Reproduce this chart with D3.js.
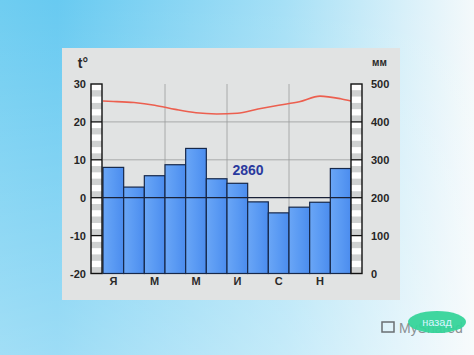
<!DOCTYPE html>
<html><head><meta charset="utf-8">
<script src="https://cdn.jsdelivr.net/npm/d3@7"></script>
<style>html,body{margin:0;padding:0;overflow:hidden;}svg{display:block;}</style>
</head><body>
<script>
const months = ["Я","Ф","М","А","М","И","И","А","С","О","Н","Д"];
const monthLabelsShown = ["Я","","М","","М","","И","","С","","Н",""];
const precip = [280,228,258,287,330,250,238,189,160,175,188,277];
const temp = [25.4,25.1,24.4,23.3,22.4,22.1,22.3,23.4,24.4,25.3,26.8,26.1];
const tempEdge = 25.5;
const tempTicks = [30,20,10,0,-10,-20];
const precipTicks = [500,400,300,200,100,0];
const totalLabel = "2860";

const W=474,H=355;
const svg=d3.select("body").append("svg").attr("width",W).attr("height",H);
const defs=svg.append("defs");
const bg=defs.append("linearGradient").attr("id","bg").attr("x1","0").attr("x2","1").attr("y1","0").attr("y2","0");
bg.append("stop").attr("offset","0").attr("stop-color","#6fcdf1");
bg.append("stop").attr("offset","0.12").attr("stop-color","#68caf1");
bg.append("stop").attr("offset","0.6").attr("stop-color","#a6e0f6");
bg.append("stop").attr("offset","1").attr("stop-color","#f4f9fb");
const bg2=defs.append("linearGradient").attr("id","bg2").attr("x1","0").attr("x2","0").attr("y1","0").attr("y2","1");
bg2.append("stop").attr("offset","0").attr("stop-color","#ffffff").attr("stop-opacity",0);
bg2.append("stop").attr("offset","1").attr("stop-color","#ffffff").attr("stop-opacity",0.35);
const barG=defs.append("linearGradient").attr("id","barg").attr("x1","0").attr("x2","1").attr("y1","0").attr("y2","0");
barG.append("stop").attr("offset","0").attr("stop-color","#6aa6f6");
barG.append("stop").attr("offset","0.5").attr("stop-color","#5a9af3");
barG.append("stop").attr("offset","1").attr("stop-color","#4b8cee");

svg.append("rect").attr("width",W).attr("height",H).attr("fill","url(#bg)");
svg.append("rect").attr("width",W).attr("height",H).attr("fill","url(#bg2)");

// panel
svg.append("rect").attr("x",62).attr("y",48).attr("width",338).attr("height",252).attr("fill","#e1e3e3");

const x0=103, x1=351, yTop=84, yBot=273.5;
const x=d3.scaleBand().domain(d3.range(12)).range([x0,x1]).padding(0);
const xl=d3.scaleLinear().domain([0,12]).range([x0,x1]);
const yT=d3.scaleLinear().domain([-20,30]).range([yBot,yTop]);
const yP=d3.scaleLinear().domain([0,500]).range([yBot,yTop]);

// grid
const g=svg.append("g");
[20,10].forEach(v=>g.append("line").attr("x1",x0).attr("x2",x1).attr("y1",yT(v)).attr("y2",yT(v)).attr("stroke","#9a9c9c").attr("stroke-width",0.8));
[3,6,9].forEach(v=>g.append("line").attr("x1",xl(v)).attr("x2",xl(v)).attr("y1",yTop).attr("y2",yBot).attr("stroke","#9a9c9c").attr("stroke-width",0.8));

// bars
svg.append("g").selectAll("rect").data(precip).join("rect")
  .attr("x",(d,i)=>x(i)).attr("width",x.bandwidth())
  .attr("y",d=>yP(d)).attr("height",d=>yBot-yP(d))
  .attr("fill","url(#barg)").attr("stroke","#16284a").attr("stroke-width",1.2);

// zero line
svg.append("line").attr("x1",x0).attr("x2",x1).attr("y1",yT(0)).attr("y2",yT(0)).attr("stroke","#1a2238").attr("stroke-width",1.2);

// temperature line
const tpts=[[0,tempEdge]].concat(temp.map((t,i)=>[i+0.5,t])).concat([[12,tempEdge]]);
svg.append("path").datum(tpts)
  .attr("d",d3.line().x(d=>xl(d[0])).y(d=>yT(d[1])).curve(d3.curveMonotoneX))
  .attr("fill","none").attr("stroke","#ec5f4f").attr("stroke-width",1.6);

// ladders
function ladder(xa,w){
  const lg=svg.append("g");
  const n=30;
  const step=(yBot-yTop)/n;
  d3.range(n).forEach(i=>{
    lg.append("rect").attr("x",xa).attr("y",yTop+i*step).attr("width",w).attr("height",step)
      .attr("fill",i%2===0?"#ffffff":"#cfd1d1");
  });
  [20,10,0,-10].forEach(v=>lg.append("line").attr("x1",xa).attr("x2",xa+w).attr("y1",yT(v)).attr("y2",yT(v)).attr("stroke","#111").attr("stroke-width",1.3));
  lg.append("rect").attr("x",xa).attr("y",yTop).attr("width",w).attr("height",yBot-yTop).attr("fill","none").attr("stroke","#111").attr("stroke-width",1.4);
}
ladder(91,11);
ladder(351,11);

// axes
const axL=d3.axisLeft(yT).tickValues(tempTicks).tickSize(0).tickPadding(0).tickFormat(d=>String(d));
const gl=svg.append("g").attr("transform","translate(86,0)").call(axL);
gl.select(".domain").remove();
gl.selectAll("text").attr("font-family","Liberation Sans, Arial, sans-serif").attr("font-weight","bold").attr("font-size",11).attr("fill","#262626");
const axR=d3.axisRight(yP).tickValues(precipTicks).tickSize(0).tickPadding(0).tickFormat(d=>String(d));
const gr=svg.append("g").attr("transform","translate(371,0)").call(axR);
gr.select(".domain").remove();
gr.selectAll("text").attr("font-family","Liberation Sans, Arial, sans-serif").attr("font-weight","bold").attr("font-size",11).attr("fill","#262626");

// month labels
svg.append("g").selectAll("text").data(monthLabelsShown).join("text")
  .attr("x",(d,i)=>x(i)+x.bandwidth()/2).attr("y",285)
  .attr("text-anchor","middle").attr("font-family","Liberation Sans, Arial, sans-serif")
  .attr("font-weight","bold").attr("font-size",11).attr("fill","#2a2a2a").text(d=>d);

// axis titles
svg.append("text").attr("x",83).attr("y",68).attr("text-anchor","middle").attr("font-family","Liberation Sans, Arial, sans-serif")
  .attr("font-weight","bold").attr("font-size",14).attr("fill","#2a2a2a").text("t°");
svg.append("text").attr("x",372).attr("y",66).attr("font-family","Liberation Sans, Arial, sans-serif")
  .attr("font-weight","bold").attr("font-size",10).attr("fill","#2a2a2a").text("мм");

// total
svg.append("text").attr("x",248).attr("y",175).attr("text-anchor","middle").attr("font-family","Liberation Sans, Arial, sans-serif")
  .attr("font-weight","bold").attr("font-size",14).attr("fill","#2a3a9e").text(totalLabel);

// watermark + button
svg.append("text").attr("x",399).attr("y",333).attr("font-family","Liberation Sans, Arial, sans-serif")
  .attr("font-size",14).attr("fill","#8a8f93").text("MyShared");
svg.append("rect").attr("x",382).attr("y",322).attr("width",12).attr("height",10).attr("fill","none").attr("stroke","#6a6f73").attr("stroke-width",1.5);
svg.append("ellipse").attr("cx",437).attr("cy",322).attr("rx",29).attr("ry",11).attr("fill","#36d49a").attr("opacity",0.95);
svg.append("text").attr("x",437).attr("y",326).attr("text-anchor","middle").attr("font-family","Liberation Sans, Arial, sans-serif")
  .attr("font-size",11).attr("fill","#d8f4ff").text("назад");
</script>
</body></html>
